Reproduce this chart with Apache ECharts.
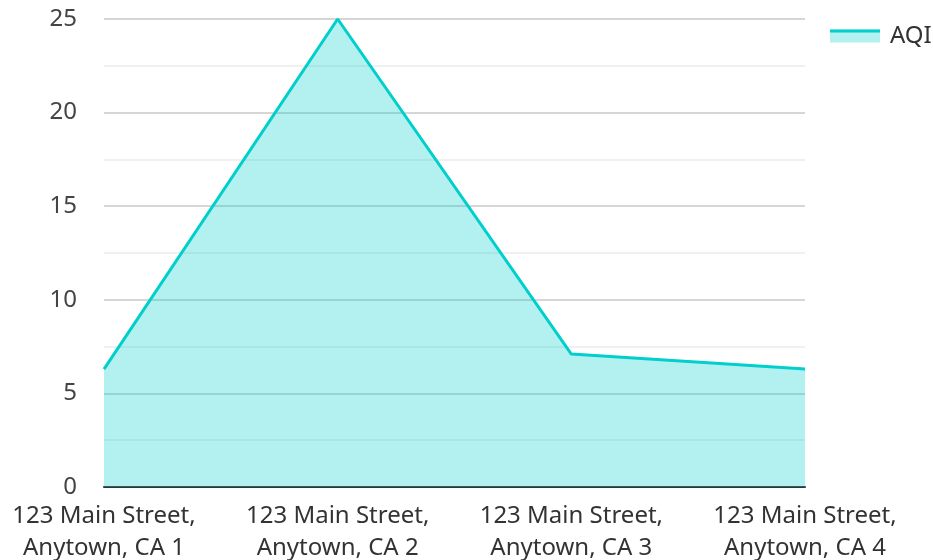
<!DOCTYPE html>
<html>
<head>
<meta charset="utf-8">
<script src="https://cdn.jsdelivr.net/npm/echarts@6/dist/echarts.min.js"></script>
<style>
  html, body { margin: 0; padding: 0; background: #fff; }
  #chart { width: 933px; height: 560px; }
</style>
</head>
<body>
<div id="chart"></div>
<script>
// Air quality readings per monitoring address
const categories = [
  '123 Main Street,\nAnytown, CA 1',
  '123 Main Street,\nAnytown, CA 2',
  '123 Main Street,\nAnytown, CA 3',
  '123 Main Street,\nAnytown, CA 4'
];
const aqiValues = [6.3, 25, 7.1, 6.3];
const seriesName = 'AQI';

const lineColor = '#00cfcc';
const fontFamily = '"Noto Sans", "Open Sans", sans-serif';

const chart = echarts.init(document.getElementById('chart'));
chart.setOption({
  animation: false,
  textStyle: { fontFamily: fontFamily },
  grid: {
    left: 104, right: 128, top: 19, bottom: 73,
    containLabel: false,
    outerBoundsMode: 'none'
  },
  legend: {
    data: [seriesName],
    left: 830,
    top: 24,
    padding: 0,
    icon: 'rect',
    itemWidth: 50,
    itemHeight: 13,
    itemGap: 8,
    itemStyle: { color: 'rgba(0,207,204,0.3)', borderWidth: 0 },
    textStyle: { fontSize: 24, color: '#333', fontFamily: fontFamily, padding: [0, 0, 0, 5] }
  },
  // top edge of the legend swatch, echoing the series line
  graphic: [{
    type: 'rect',
    shape: { x: 830, y: 29.5, width: 50, height: 3 },
    style: { fill: lineColor },
    z: 100
  }],
  xAxis: {
    type: 'category',
    data: categories,
    boundaryGap: false,
    axisLine: { lineStyle: { color: '#333', width: 2 } },
    axisTick: { show: false },
    axisLabel: {
      interval: 0,
      hideOverlap: false,
      fontSize: 24,
      color: '#333',
      lineHeight: 32,
      margin: 13,
      fontFamily: fontFamily
    },
    splitLine: { show: false }
  },
  yAxis: {
    type: 'value',
    min: 0,
    max: 25,
    interval: 5,
    axisLine: { show: false },
    axisTick: { show: false },
    axisLabel: { fontSize: 24, color: '#444', margin: 27, fontFamily: fontFamily },
    splitLine: { lineStyle: { color: '#c8c8c8', width: 1.5 } },
    minorTick: { show: false, splitNumber: 2 },
    minorSplitLine: { show: true, lineStyle: { color: '#ebebeb', width: 1.5 } }
  },
  series: [{
    name: seriesName,
    type: 'line',
    data: aqiValues,
    showSymbol: false,
    symbol: 'none',
    lineStyle: { color: lineColor, width: 3 },
    itemStyle: { color: lineColor },
    areaStyle: { color: lineColor, opacity: 0.3 }
  }]
});
</script>
</body>
</html>
